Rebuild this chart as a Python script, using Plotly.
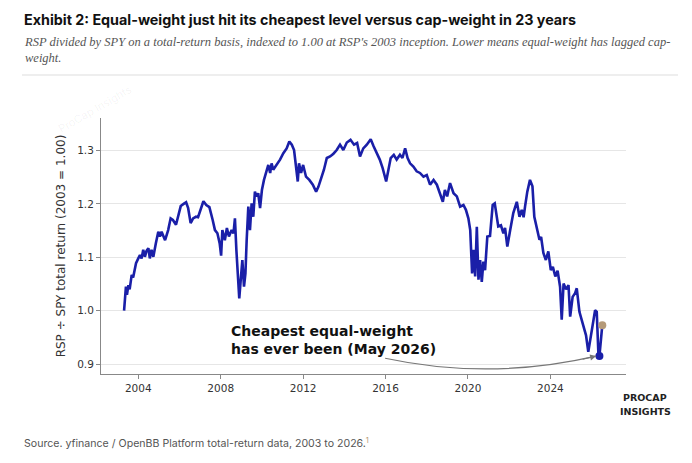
import plotly.graph_objects as go

# RSP / SPY total-return ratio
years = [
    2003.31, 2003.36, 2003.40, 2003.45, 2003.52, 2003.58, 2003.68, 2003.75, 2003.89, 2004.00,
    2004.08, 2004.16, 2004.24, 2004.32, 2004.40, 2004.49, 2004.56, 2004.64, 2004.73, 2004.85,
    2004.97, 2005.05, 2005.13, 2005.30, 2005.45, 2005.57, 2005.68, 2005.83, 2005.95, 2006.06,
    2006.20, 2006.32, 2006.42, 2006.54, 2006.66, 2006.80, 2006.90, 2007.00, 2007.16, 2007.30,
    2007.45, 2007.61, 2007.72, 2007.84, 2007.95, 2008.02, 2008.08, 2008.20, 2008.30, 2008.40,
    2008.53, 2008.62, 2008.69, 2008.76, 2008.82, 2008.90, 2008.97, 2009.05, 2009.13, 2009.20,
    2009.26, 2009.34, 2009.42, 2009.50, 2009.58, 2009.66, 2009.74, 2009.82, 2009.91, 2010.00,
    2010.10, 2010.20, 2010.31, 2010.40, 2010.47, 2010.55, 2010.72, 2010.88, 2011.04, 2011.20,
    2011.33, 2011.45, 2011.56, 2011.65, 2011.74, 2011.80, 2011.90, 2012.00, 2012.14, 2012.30,
    2012.47, 2012.63, 2012.74, 2012.85, 2013.01, 2013.15, 2013.31, 2013.47, 2013.63, 2013.79,
    2013.95, 2014.12, 2014.30, 2014.47, 2014.62, 2014.76, 2014.92, 2015.09, 2015.28, 2015.42,
    2015.57, 2015.72, 2015.86, 2016.03, 2016.14, 2016.25, 2016.40, 2016.54, 2016.70, 2016.82,
    2016.95, 2017.07, 2017.19, 2017.35, 2017.51, 2017.67, 2017.84, 2018.00, 2018.16, 2018.33,
    2018.49, 2018.64, 2018.78, 2018.88, 2018.99, 2019.13, 2019.30, 2019.46, 2019.62, 2019.78,
    2019.90, 2020.02, 2020.11, 2020.20, 2020.27, 2020.35, 2020.43, 2020.51, 2020.59, 2020.67,
    2020.75, 2020.83, 2020.94, 2021.07, 2021.20, 2021.30, 2021.47, 2021.60, 2021.72, 2021.80,
    2021.91, 2022.05, 2022.20, 2022.37, 2022.50, 2022.61, 2022.70, 2022.77, 2022.88, 2023.01,
    2023.13, 2023.22, 2023.33, 2023.47, 2023.55, 2023.66, 2023.78, 2023.90, 2024.02, 2024.12,
    2024.24, 2024.35, 2024.47, 2024.55, 2024.64, 2024.76, 2024.88, 2024.96, 2025.08, 2025.20,
    2025.28, 2025.41, 2025.57, 2025.73, 2025.84, 2025.94, 2026.06, 2026.17, 2026.25, 2026.33,
    2026.38, 2026.49, 2026.52,
]
ratio = [
    1.000, 1.040, 1.045, 1.030, 1.048, 1.040, 1.067, 1.062, 1.089, 1.098,
    1.104, 1.098, 1.114, 1.101, 1.112, 1.117, 1.098, 1.114, 1.101, 1.126,
    1.148, 1.139, 1.148, 1.132, 1.151, 1.173, 1.170, 1.161, 1.179, 1.196,
    1.200, 1.203, 1.192, 1.164, 1.173, 1.176, 1.175, 1.186, 1.205, 1.198,
    1.194, 1.170, 1.151, 1.145, 1.126, 1.103, 1.151, 1.132, 1.155, 1.139,
    1.151, 1.145, 1.173, 1.114, 1.064, 1.023, 1.057, 1.095, 1.045, 1.070,
    1.132, 1.195, 1.151, 1.201, 1.176, 1.223, 1.214, 1.220, 1.192, 1.226,
    1.245, 1.261, 1.273, 1.258, 1.276, 1.264, 1.273, 1.283, 1.295, 1.304,
    1.317, 1.311, 1.301, 1.276, 1.242, 1.276, 1.258, 1.273, 1.251, 1.245,
    1.236, 1.223, 1.232, 1.245, 1.264, 1.286, 1.289, 1.294, 1.301, 1.311,
    1.301, 1.315, 1.320, 1.311, 1.314, 1.289, 1.304, 1.311, 1.321, 1.308,
    1.295, 1.283, 1.267, 1.242, 1.264, 1.286, 1.292, 1.283, 1.292, 1.286,
    1.304, 1.286, 1.276, 1.270, 1.261, 1.258, 1.251, 1.254, 1.236, 1.245,
    1.236, 1.220, 1.204, 1.226, 1.214, 1.239, 1.220, 1.214, 1.195, 1.198,
    1.189, 1.173, 1.151, 1.070, 1.114, 1.064, 1.157, 1.058, 1.095, 1.054,
    1.092, 1.076, 1.139, 1.140, 1.198, 1.201, 1.158, 1.160, 1.145, 1.155,
    1.120, 1.151, 1.183, 1.204, 1.176, 1.189, 1.175, 1.195, 1.223, 1.245,
    1.233, 1.176, 1.158, 1.133, 1.138, 1.108, 1.095, 1.111, 1.076, 1.082,
    1.064, 1.075, 1.045, 0.983, 1.051, 1.040, 1.048, 0.989, 1.026, 1.033,
    1.042, 0.998, 0.976, 0.954, 0.923, 0.945, 0.976, 1.001, 0.998, 0.920,
    0.915, 0.970, 0.973,
]
x_ticks = [2004, 2008, 2012, 2016, 2020, 2024]
y_ticks = [0.9, 1.0, 1.1, 1.2, 1.3]

# the page body adds an 8px margin, so the figure is drawn 8px smaller
OFF = 8
W, H = 692 - OFF, 463 - OFF
L, R, T, B = 101 - OFF, 66, 118 - OFF, 89
PW, PH = W - L - R, H - T - B


def px(x):
    return (x - OFF - L) / PW


def py(y):
    return (H - B - (y - OFF)) / PH


low_i = ratio.index(min(ratio))

fig = go.Figure()
fig.add_trace(go.Scatter(x=years, y=ratio, mode="lines",
                         line=dict(color="#1a1fa8", width=2.6), hoverinfo="skip"))
fig.add_trace(go.Scatter(x=[years[low_i]], y=[ratio[low_i]], mode="markers",
                         marker=dict(color="#1a1fa8", size=8)))
fig.add_trace(go.Scatter(x=[years[-1]], y=[ratio[-1]], mode="markers",
                         marker=dict(color="#b59a78", size=8)))

# curved pointer from the label to the low
fig.add_shape(type="path", xref="x", yref="y",
              path="M 2015.98,0.911 Q 2021.05,0.869 2026.22,0.915",
              line=dict(color="#777777", width=1.2))
fig.add_annotation(x=2026.22, y=0.915, ax=-15, ay=3.5, text="", showarrow=True,
                   arrowhead=2, arrowsize=1, arrowwidth=1.2, arrowcolor="#777777")

fig.add_annotation(x=2008.4, y=0.946, xanchor="left", yanchor="middle", align="left",
                   text="Cheapest equal-weight<br>has ever been (May 2026)", showarrow=False,
                   font=dict(family="DejaVu Sans", size=14, color="#111111", weight="bold"))

# page furniture
fig.add_annotation(xref="paper", yref="paper", x=px(22), y=py(19), xanchor="left", yanchor="middle",
                   text="Exhibit 2: Equal-weight just hit its cheapest level versus cap-weight in 23 years",
                   showarrow=False, font=dict(family="Inter", size=14.3, color="#111111", weight="bold"))
fig.add_annotation(xref="paper", yref="paper", x=px(22), y=py(50), xanchor="left", yanchor="middle",
                   align="left", showarrow=False,
                   text="RSP divided by SPY on a total-return basis, indexed to 1.00 at RSP's 2003 inception. "
                        "Lower means equal-weight has lagged cap-<br>weight.",
                   font=dict(family="Liberation Serif", size=12.5, color="#555555", style="italic"))
fig.add_shape(type="line", xref="paper", yref="paper", x0=px(22), x1=px(678), y0=py(75), y1=py(75),
              line=dict(color="#dddddd", width=1))
fig.add_annotation(xref="paper", yref="paper", x=px(95), y=py(80), text="ProCap Insights",
                   xanchor="center", textangle=-30, showarrow=False,
                   font=dict(family="Inter", size=11, color="rgba(0,0,0,0.05)"))
fig.add_annotation(xref="paper", yref="paper", x=px(645), y=py(397), text="PROCAP",
                   xanchor="center", yanchor="middle", showarrow=False,
                   font=dict(family="DejaVu Sans", size=9.5, color="#222222", weight="bold"))
fig.add_annotation(xref="paper", yref="paper", x=px(645), y=py(411), text="INSIGHTS",
                   xanchor="center", yanchor="middle", showarrow=False,
                   font=dict(family="DejaVu Sans", size=9.5, color="#222222", weight="bold"))
fig.add_annotation(xref="paper", yref="paper", x=px(22), y=py(443), xanchor="left", yanchor="middle",
                   showarrow=False,
                   text="Source. yfinance / OpenBB Platform total-return data, 2003 to 2026."
                        "<sup><span style='color:#b59a78'>1</span></sup>",
                   font=dict(family="Inter", size=10.6, color="#555555"))

fig.update_layout(
    width=W, height=H, margin=dict(l=L, r=R, t=T, b=B, autoexpand=False),
    paper_bgcolor="white", plot_bgcolor="white", showlegend=False,
    font=dict(family="DejaVu Sans", size=10.5, color="#333333"),
)
fig.update_xaxes(range=[2002.19, 2027.67], tickvals=x_ticks, ticktext=[str(t) for t in x_ticks],
                 showgrid=False, zeroline=False, showline=True, linecolor="#888888", linewidth=1,
                 ticks="outside", ticklen=4, tickcolor="#888888", automargin=False)
fig.update_yaxes(range=[0.8815, 1.3609], tickvals=y_ticks, tickformat=".1f",
                 showgrid=True, gridcolor="#e6e6e6", gridwidth=1, zeroline=False,
                 showline=True, linecolor="#888888", linewidth=1, automargin=False,
                 ticks="outside", ticklen=4, tickcolor="#888888",
                 title=dict(text="RSP ÷ SPY total return (2003 = 1.00)", standoff=8,
                            font=dict(family="DejaVu Sans", size=12, color="#333333")))

fig.write_html("out.html")
